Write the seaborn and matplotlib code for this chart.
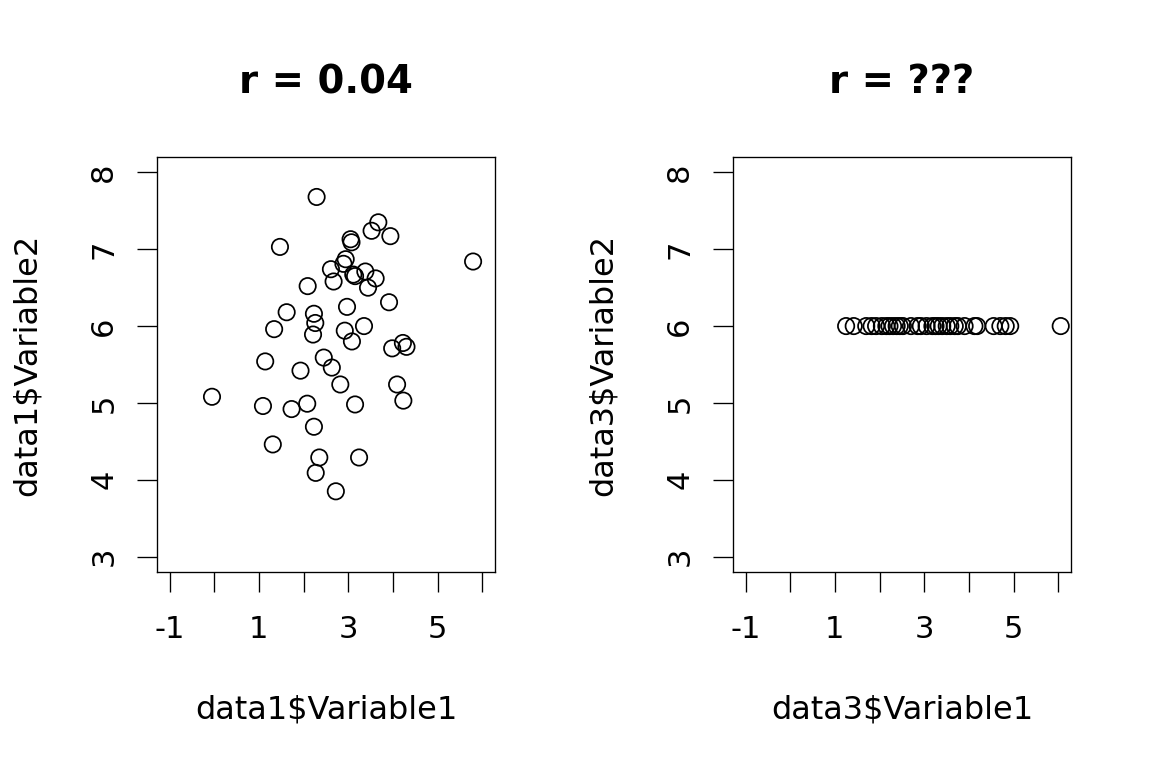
import matplotlib
matplotlib.use("Agg")
import matplotlib.pyplot as plt
import seaborn as sns
import pandas as pd

# left panel: data1
var1_x = [2.29, 3.67, 3.52, 3.94, 3.05, 3.07, 1.47, 5.79, 2.94, 2.89,
          2.61, 3.38, 3.11, 3.15, 3.61, 2.67, 3.44, 2.09, 3.91, 2.97,
          1.62, 2.23, 2.26, 1.34, 2.21, 2.92, 3.35, 3.08, 3.98, 4.22,
          4.30, 1.14, 2.45, 2.63, 1.93, 2.82, 4.09, -0.05, 4.23, 1.09,
          1.73, 2.08, 3.15, 2.23, 1.31, 2.35, 3.24, 2.27, 2.72]
var1_y = [7.68, 7.35, 7.24, 7.17, 7.13, 7.09, 7.03, 6.84, 6.87, 6.81,
          6.74, 6.71, 6.67, 6.65, 6.62, 6.58, 6.50, 6.52, 6.31, 6.25,
          6.18, 6.16, 6.04, 5.96, 5.89, 5.94, 6.00, 5.80, 5.71, 5.78,
          5.73, 5.54, 5.59, 5.46, 5.42, 5.24, 5.24, 5.08, 5.03, 4.96,
          4.92, 4.99, 4.98, 4.69, 4.46, 4.29, 4.29, 4.09, 3.85]

# right panel: data3 (Variable2 constant)
var3_x = [1.25, 1.42, 1.70, 1.82, 1.92, 2.05, 2.15, 2.22, 2.30, 2.38,
          2.45, 2.52, 2.70, 2.85, 2.92, 3.05, 3.18, 3.25, 3.32, 3.40,
          3.50, 3.58, 3.68, 3.75, 3.90, 4.12, 4.18, 4.55, 4.70, 4.82,
          4.92, 6.05]
var3_y = [6.0] * len(var3_x)

titles = ["r = 0.04", "r = ???"]
xlabels = ["data1$Variable1", "data3$Variable1"]
ylabels = ["data1$Variable2", "data3$Variable2"]

x_ticks = [-1, 0, 1, 2, 3, 4, 5, 6]
x_ticklabels = ["-1", "", "1", "", "3", "", "5", ""]
y_ticks = [3, 4, 5, 6, 7, 8]

sns.set_style("white")
plt.rcParams["font.family"] = ["DejaVu Sans"]
plt.rcParams["text.color"] = "black"
plt.rcParams["axes.labelcolor"] = "black"
plt.rcParams["xtick.color"] = "black"
plt.rcParams["ytick.color"] = "black"

data1 = pd.DataFrame({"Variable1": var1_x, "Variable2": var1_y})
data3 = pd.DataFrame({"Variable1": var3_x, "Variable2": var3_y})

fig = plt.figure(figsize=(12, 8), dpi=96)
lefts = [157 / 1152, 733 / 1152]
for i, df in enumerate([data1, data3]):
    ax = fig.add_axes([lefts[i], 196 / 768, 338 / 1152, 415 / 768])
    sns.scatterplot(data=df, x="Variable1", y="Variable2", ax=ax,
                    marker="o", s=150, facecolor="none", edgecolor="black",
                    linewidth=1.3)
    ax.set_xlim(-1.28, 6.28)
    ax.set_ylim(2.8, 8.2)
    ax.set_xticks(x_ticks)
    ax.set_xticklabels(x_ticklabels)
    ax.set_yticks(y_ticks)
    ax.set_yticklabels([str(t) for t in y_ticks], rotation=90, va="center")
    ax.tick_params(axis="both", direction="out", length=15, width=1.0,
                   color="black", labelcolor="black", labelsize=23, pad=14,
                   bottom=True, left=True)
    ax.tick_params(axis="x", pad=17)
    for sp in ax.spines.values():
        sp.set_color("black")
        sp.set_linewidth(1.0)
    ax.set_title(titles[i], fontsize=29, fontweight="bold", pad=48,
                 color="black")
    ax.set_xlabel(xlabels[i], fontsize=24, labelpad=38, color="black")
    ax.set_ylabel(ylabels[i], fontsize=24, labelpad=35, color="black")

fig.savefig("out.png", dpi=96, facecolor="white")
